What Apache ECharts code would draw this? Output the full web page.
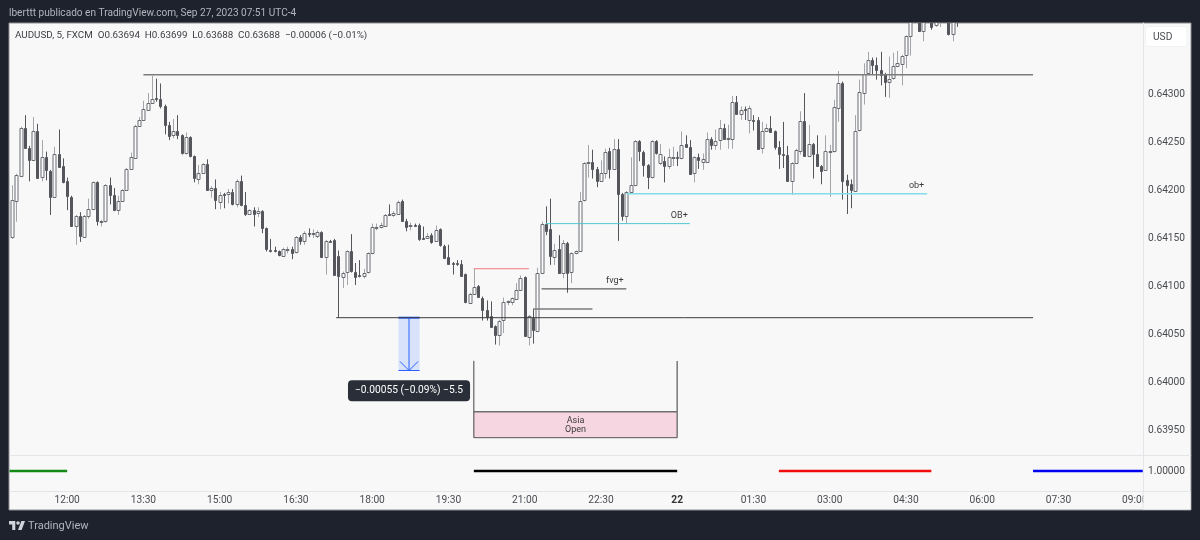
<!DOCTYPE html>
<html>
<head>
<meta charset="utf-8">
<title>AUDUSD, 5</title>
<script src="https://cdn.jsdelivr.net/npm/echarts@6/dist/echarts.min.js"></script>
<style>
  html, body {margin: 0; padding: 0; background: #1e222d;}
  #chart {width: 1200px; height: 540px;}
</style>
</head>
<body>
<div id="chart"></div>
<script>
// prices are in 1e-5 units (64151 = 0.64151), x is the 5 minute bar number counted from 00:00 of the 21st
const firstBar = 131

const opens = [
  64151,64189,64215,64265,64244,64232,64262,64213,64234,64220,
  64193,64238,64225,64209,64193,64163,64173,64151,64173,64180,
  64208,64167,64167,64205,64195,64180,64189,64200,64222,64234,
  64267,64273,64284,64291,64296,64295,64288,64268,64257,64261,
  64257,64238,64255,64235,64212,64218,64227,64200,64202,64188,
  64196,64196,64198,64185,64209,64184,64175,64179,64176,64178,
  64160,64138,64138,64136,64132,64138,64139,64135,64151,64147,
  64155,64154,64152,64156,64130,64147,64148,64131,64110,64114,
  64136,64115,64111,64111,64114,64134,64161,64162,64163,64175,
  64174,64176,64189,64168,64163,64164,64164,64150,64150,64153,
  64147,64159,64142,64130,64124,64124,64123,64112,64083,64092,
  64100,64088,64075,64069,64058,64049,64064,64083,64083,64087,
  64096,64109,64047,64067,64054,64114,64165,64159,64131,64139,
  64114,64145,64114,64134,64137,64189,64228,64229,64222,64210,
  64218,64241,64222,64243,64196,64173,64198,64205,64251,64240,
  64226,64213,64251,64229,64230,64225,64233,64234,64233,64248,
  64245,64217,64234,64229,64229,64253,64247,64252,64265,64253,
  64253,64292,64279,64284,64273,64273,64273,64244,64262,64265,
  64261,64245,64238,64237,64209,64228,64241,64272,64236,64248,
  64238,64225,64221,64240,64240,64286,64312,64210,64206,64200,
  64262,64301,64321,64335,64330,64325,64321,64313,64316,64329,
  64332,64340,64360,64378,64395,64366,64385,64385,64372,64378,
  64384,64380,64362,64381,
]
const closes = [
  64190,64216,64265,64244,64232,64262,64213,64234,64220,64193,
  64238,64224,64208,64193,64163,64173,64152,64173,64180,64208,
  64167,64168,64205,64195,64179,64189,64200,64222,64234,64267,
  64273,64284,64291,64295,64295,64288,64268,64257,64261,64257,
  64238,64255,64235,64212,64218,64227,64200,64202,64189,64195,
  64195,64198,64185,64209,64184,64175,64179,64175,64178,64160,
  64138,64137,64137,64132,64139,64139,64135,64151,64147,64155,
  64154,64155,64156,64130,64147,64146,64112,64110,64114,64136,
  64115,64110,64110,64114,64134,64161,64162,64164,64174,64174,
  64176,64188,64168,64162,64164,64163,64149,64149,64152,64146,
  64158,64142,64130,64123,64123,64123,64111,64083,64092,64099,
  64089,64075,64068,64058,64049,64064,64083,64084,64087,64096,
  64108,64048,64069,64054,64114,64165,64158,64131,64138,64114,
  64145,64114,64134,64136,64189,64228,64229,64222,64210,64218,
  64240,64222,64243,64196,64173,64198,64205,64251,64241,64226,
  64213,64251,64238,64238,64225,64234,64234,64233,64247,64245,
  64217,64234,64231,64232,64253,64247,64251,64265,64254,64254,
  64292,64280,64283,64283,64285,64272,64243,64262,64265,64261,
  64244,64238,64237,64210,64228,64242,64272,64236,64248,64238,
  64225,64220,64241,64241,64286,64312,64210,64205,64200,64262,
  64302,64321,64335,64330,64325,64320,64313,64316,64329,64332,
  64340,64360,64377,64395,64366,64392,64392,64369,64380,64382,
  64380,64362,64381,64376,
]
const highs = [
  64205,64217,64266,64278,64246,64276,64269,64252,64240,64221,
  64245,64263,64233,64213,64194,64174,64177,64174,64191,64209,
  64209,64169,64206,64213,64202,64194,64201,64223,64239,64268,
  64276,64293,64301,64319,64316,64311,64289,64271,64274,64278,
  64258,64260,64256,64236,64226,64228,64232,64204,64211,64198,
  64197,64201,64201,64211,64215,64198,64180,64182,64182,64179,
  64161,64149,64141,64137,64140,64141,64141,64152,64153,64157,
  64160,64159,64158,64157,64148,64148,64149,64137,64115,64137,
  64154,64124,64127,64118,64135,64165,64165,64166,64175,64185,
  64178,64189,64190,64170,64166,64165,64165,64162,64155,64155,
  64163,64160,64143,64143,64125,64127,64127,64113,64093,64118,
  64101,64089,64085,64084,64059,64065,64088,64085,64088,64103,
  64111,64110,64070,64076,64119,64167,64183,64191,64144,64153,
  64148,64146,64135,64137,64198,64229,64247,64242,64224,64231,
  64243,64244,64253,64253,64197,64199,64234,64252,64252,64241,
  64227,64252,64252,64248,64235,64243,64245,64240,64261,64257,
  64252,64235,64238,64238,64260,64255,64263,64273,64269,64268,
  64298,64298,64287,64287,64288,64278,64276,64271,64269,64277,
  64262,64251,64271,64246,64229,64243,64282,64301,64268,64249,
  64257,64226,64257,64247,64294,64324,64313,64216,64211,64278,
  64315,64332,64344,64338,64338,64344,64322,64339,64343,64345,
  64341,64361,64385,64400,64396,64393,64398,64386,64382,64384,
  64386,64381,64382,64382,
]
const lows = [
  64149,64167,64214,64243,64209,64231,64212,64209,64210,64174,
  64192,64223,64207,64179,64162,64143,64146,64150,64170,64179,
  64163,64162,64166,64185,64178,64174,64188,64199,64221,64233,
  64266,64272,64283,64290,64292,64285,64258,64252,64254,64253,
  64237,64237,64234,64208,64206,64217,64199,64192,64180,64180,
  64181,64186,64184,64182,64183,64173,64174,64162,64172,64155,
  64136,64135,64135,64131,64131,64134,64128,64134,64143,64143,
  64151,64150,64150,64129,64112,64146,64111,64067,64098,64101,
  64114,64101,64109,64108,64113,64133,64158,64160,64162,64173,
  64172,64175,64167,64157,64158,64162,64147,64148,64149,64144,
  64146,64141,64128,64122,64112,64121,64110,64082,64082,64091,
  64088,64064,64064,64057,64039,64038,64051,64080,64080,64086,
  64095,64047,64038,64040,64052,64113,64153,64122,64122,64113,
  64108,64093,64103,64133,64136,64188,64213,64212,64203,64209,
  64212,64212,64221,64147,64168,64165,64197,64204,64230,64214,
  64201,64212,64237,64226,64208,64222,64225,64225,64232,64244,
  64216,64208,64222,64221,64228,64242,64242,64242,64253,64243,
  64243,64279,64273,64273,64259,64262,64242,64238,64261,64260,
  64242,64222,64223,64209,64195,64227,64237,64235,64235,64212,
  64224,64206,64220,64193,64239,64271,64190,64175,64181,64199,
  64261,64289,64320,64320,64315,64309,64297,64296,64315,64328,
  64309,64327,64340,64375,64365,64355,64380,64367,64370,64370,
  64378,64361,64355,64370,
]

const timeLabels = ['12:00', '13:30', '15:00', '16:30', '18:00', '19:30', '21:00', '22:30', '22',
  '01:30', '03:00', '04:30', '06:00', '07:30', '09:00']

// drawn levels: high line, low line, cyan OB+, cyan ob+, red, fvg+, grey under fvg+
const levelPrices = [64320, 64067, 64165, 64196, 64118, 64097, 64076]
const levelFrom = [162, 207.5, 257, 276, 240, 256, 254]
const levelTo = [372, 372, 291, 347, 253, 276, 268]

const noteTexts = ['OB+', 'ob+', 'fvg+']
const noteBars = [288.5, 344.5, 273.3]
const notePrices = [64173, 64204, 64105]

// session bands in the lower pane
const sessionValue = 1
const sessionFrom = [130.4, 240, 312, 372]
const sessionTo = [144, 288, 348, 397.9]

const measureFrom = 222.2
const measureTo = 227.2
const measureTop = 64067
const measureBottom = 64012
const measureLabelPrice = 63991
const measureText = '−0.00055 (−0.09%) −5.5'

const asiaFrom = 240
const asiaTo = 288
const asiaTop = 64022
const asiaBandTop = 63969
const asiaBottom = 63942
const asiaText = 'Asia\nOpen'

const font = 'Roboto'
const p = v => v / 1e5

const candles = opens.map((o, i) => [firstBar + i, p(o), p(closes[i]), p(lows[i]), p(highs[i])])

function renderCandle(params, api) {
  const x = api.value(0)
  const open = api.value(1)
  const close = api.value(2)
  const up = close >= open
  const top = api.coord([x, Math.max(open, close)])
  const bot = api.coord([x, Math.min(open, close)])
  const hi = api.coord([x, api.value(4)])
  const lo = api.coord([x, api.value(3)])
  const cx = Math.round(top[0]) + 0.5
  const h = Math.max(Math.round(bot[1] - top[1]), 1)
  const y = Math.round(top[1]) + 0.5
  return {
    type: 'group',
    children: [
      {
        type: 'line',
        shape: {x1: cx, y1: hi[1], x2: cx, y2: lo[1]},
        style: {stroke: up ? '#a3a5ab' : '#54565c', lineWidth: 1},
      },
      {
        type: 'rect',
        shape: up ? {x: cx - 1.5, y, width: 3, height: h} : {x: cx - 1, y, width: 2, height: h},
        style: {fill: up ? '#fcfcfc' : '#54565c', stroke: up ? '#6a6c72' : '#54565c', lineWidth: 1},
      },
    ],
  }
}

function renderMeasure(params, api) {
  const a = api.coord([api.value(0), api.value(2)])
  const b = api.coord([api.value(1), api.value(3)])
  const mid = (a[0] + b[0]) / 2
  const blue = '#2962ff'
  return {
    type: 'group',
    children: [
      {type: 'rect', shape: {x: a[0], y: a[1], width: b[0] - a[0], height: b[1] - a[1]}, style: {fill: '#d8e2fb'}},
      {type: 'line', shape: {x1: a[0], y1: a[1], x2: b[0], y2: a[1]}, style: {stroke: blue, lineWidth: 2}},
      {type: 'line', shape: {x1: a[0], y1: b[1], x2: b[0], y2: b[1]}, style: {stroke: blue, lineWidth: 1}},
      {type: 'line', shape: {x1: mid, y1: a[1], x2: mid, y2: b[1]}, style: {stroke: blue, lineWidth: 1}},
      {
        type: 'polyline',
        shape: {points: [[mid - 9, b[1] - 9], [mid, b[1]], [mid + 9, b[1] - 9]]},
        style: {stroke: blue, fill: 'none', lineWidth: 1},
      },
    ],
  }
}

function renderAsia(params, api) {
  const tl = api.coord([api.value(0), api.value(2)])
  const band = api.coord([api.value(1), api.value(3)])
  const br = api.coord([api.value(1), api.value(4)])
  return {
    type: 'group',
    children: [
      {
        type: 'rect',
        shape: {x: tl[0], y: band[1], width: br[0] - tl[0], height: br[1] - band[1]},
        style: {fill: '#f6d6e1'},
      },
      {type: 'line', shape: {x1: tl[0], y1: band[1], x2: br[0], y2: band[1]}, style: {stroke: '#6f6f6f', lineWidth: 1.5}},
      {type: 'line', shape: {x1: tl[0], y1: br[1], x2: br[0], y2: br[1]}, style: {stroke: '#555', lineWidth: 1}},
      {type: 'line', shape: {x1: tl[0], y1: tl[1], x2: tl[0], y2: br[1]}, style: {stroke: '#444', lineWidth: 1}},
      {type: 'line', shape: {x1: br[0], y1: tl[1], x2: br[0], y2: br[1]}, style: {stroke: '#777', lineWidth: 1.5}},
      {
        type: 'text',
        style: {
          x: (tl[0] + br[0]) / 2,
          y: (band[1] + br[1]) / 2 + 1,
          text: asiaText,
          fill: '#3b3b3b',
          font: `9px ${font}`,
          align: 'center',
          verticalAlign: 'middle',
          lineHeight: 9,
        },
      },
    ],
  }
}

const levelStyles = [
  {color: '#7c7c7c', width: 1.5},
  {color: '#3a3a3a', width: 1},
  {color: '#4fc6d3', width: 1},
  {color: '#7fdde7', width: 1.5},
  {color: '#f4757d', width: 1},
  {color: '#3a3a3a', width: 1},
  {color: '#7c7c7c', width: 1.5},
]
const sessionColors = ['#148a14', '#000000', '#f20d0d', '#0000f0']

const levelSeries = levelPrices.map((v, i) => ({
  type: 'line',
  xAxisIndex: 0,
  yAxisIndex: 0,
  symbol: 'none',
  z: 4,
  lineStyle: levelStyles[i],
  data: [[levelFrom[i], p(v)], [levelTo[i], p(v)]],
}))

const sessionSeries = sessionFrom.map((v, i) => ({
  type: 'line',
  xAxisIndex: 1,
  yAxisIndex: 1,
  symbol: 'none',
  lineStyle: {color: sessionColors[i], width: 2.5},
  data: [[v, sessionValue], [sessionTo[i], sessionValue]],
}))

// ticks count from min, so both axes start on a multiple of their interval and
// the grids run a little past the visible panel
const xRange = {min: 126, max: 397.96, interval: 18}
const axisGrey = '#e4e5e8'
const labelGrey = '#4a4c52'

const option = {
  animation: false,
  backgroundColor: '#1e222d',
  textStyle: {fontFamily: font},
  grid: [
    {left: -9.1, top: 23, width: 1152.1, height: 455, outerBoundsMode: 'none'},
    {left: -9.1, top: 456, width: 1152.1, height: 35, outerBoundsMode: 'none'},
  ],
  xAxis: [
    {
      type: 'value',
      gridIndex: 0,
      ...xRange,
      axisLine: {show: false},
      axisTick: {show: false},
      axisLabel: {show: false},
      splitLine: {show: false},
    },
    {
      type: 'value',
      gridIndex: 1,
      ...xRange,
      axisLine: {show: false},
      axisTick: {show: false},
      splitLine: {show: false},
      axisLabel: {
        color: labelGrey,
        fontSize: 10.2,
        margin: 4,
        showMinLabel: false,
        showMaxLabel: false,
        formatter: v => {
          const s = timeLabels[(v - 144) / 18] || ''
          return s === '22' ? `{b|${s}}` : s
        },
        rich: {b: {fontWeight: 'bold', fontSize: 10.2, color: '#333'}},
      },
    },
  ],
  yAxis: [
    {
      type: 'value',
      gridIndex: 0,
      position: 'right',
      min: 0.639,
      max: 0.64374,
      interval: 0.0005,
      axisLine: {show: true, onZero: false, lineStyle: {color: axisGrey}},
      axisTick: {show: false},
      splitLine: {show: false},
      axisLabel: {
        color: labelGrey,
        fontSize: 10.2,
        margin: 5,
        showMinLabel: false,
        showMaxLabel: false,
        formatter: v => (v > 0.6432 ? '' : v.toFixed(5)),
      },
    },
    {
      type: 'value',
      gridIndex: 1,
      position: 'right',
      min: 0,
      max: 1.75,
      interval: 1,
      axisLine: {show: true, onZero: false, lineStyle: {color: axisGrey}},
      axisTick: {show: false},
      splitLine: {show: false},
      axisLabel: {
        color: labelGrey,
        fontSize: 10.2,
        margin: 5,
        showMinLabel: false,
        showMaxLabel: false,
        formatter: v => v.toFixed(5),
      },
    },
  ],
  series: [
    {
      type: 'custom',
      name: 'AUDUSD',
      xAxisIndex: 0,
      yAxisIndex: 0,
      clip: true,
      z: 3,
      renderItem: renderCandle,
      encode: {x: 0, y: [1, 2, 3, 4]},
      data: candles,
    },
    ...levelSeries,
    {
      type: 'custom',
      xAxisIndex: 0,
      yAxisIndex: 0,
      z: 2,
      renderItem: renderMeasure,
      encode: {x: [0, 1], y: [2, 3]},
      data: [[measureFrom, measureTo, p(measureTop), p(measureBottom)]],
    },
    {
      type: 'custom',
      xAxisIndex: 0,
      yAxisIndex: 0,
      z: 2,
      renderItem: renderAsia,
      encode: {x: [0, 1], y: [2, 3, 4]},
      data: [[asiaFrom, asiaTo, p(asiaTop), p(asiaBandTop), p(asiaBottom)]],
    },
    {
      type: 'scatter',
      xAxisIndex: 0,
      yAxisIndex: 0,
      symbolSize: 0,
      z: 5,
      itemStyle: {opacity: 1},
      label: {
        show: true,
        position: 'inside',
        color: '#3b3b3b',
        fontSize: 9,
        formatter: d => d.name,
      },
      data: noteTexts.map((t, i) => ({name: t, value: [noteBars[i], p(notePrices[i])]})),
    },
    {
      type: 'scatter',
      xAxisIndex: 0,
      yAxisIndex: 0,
      symbolSize: 0,
      z: 6,
      itemStyle: {opacity: 1},
      label: {
        show: true,
        position: 'inside',
        color: '#fff',
        fontSize: 10.2,
        backgroundColor: '#2a2e39',
        borderRadius: 4,
        padding: [6, 7, 5, 7],
        formatter: d => d.name,
      },
      data: [{name: measureText, value: [(measureFrom + measureTo) / 2, p(measureLabelPrice)]}],
    },
    ...sessionSeries,
  ],
  graphic: [
    // chart panel behind the two grids
    {
      type: 'rect',
      z: -10,
      shape: {x: 9, y: 23, width: 1182, height: 487},
      style: {fill: '#f8f8f8', stroke: '#8f9094', lineWidth: 1},
    },
    // pane separators
    {
      type: 'line',
      z: 1,
      shape: {x1: 9.5, y1: 455.5, x2: 1191, y2: 455.5},
      style: {stroke: axisGrey, lineWidth: 1},
    },
    {
      type: 'line',
      z: 1,
      shape: {x1: 9.5, y1: 491.5, x2: 1191, y2: 491.5},
      style: {stroke: axisGrey, lineWidth: 1},
    },
    // the last time label is cut at the price scale
    {
      type: 'rect',
      z: 100,
      shape: {x: 1143.5, y: 492, width: 47, height: 17.5},
      style: {fill: '#f8f8f8'},
    },
    {
      type: 'line',
      z: 100,
      shape: {x1: 1143, y1: 491, x2: 1143, y2: 510},
      style: {stroke: axisGrey, lineWidth: 1},
    },
    {
      type: 'text',
      z: 100,
      style: {
        x: 9,
        y: 8,
        text: 'lberttt publicado en TradingView.com, Sep 27, 2023 07:51 UTC-4',
        fill: '#b2b5be',
        font: `10.1px ${font}`,
      },
    },
    {
      type: 'text',
      z: 100,
      style: {
        x: 15,
        y: 31,
        text: 'AUDUSD, 5, FXCM  O0.63694  H0.63699  L0.63688  C0.63688  −0.00006 (−0.01%)',
        fill: '#3c3e44',
        font: `9.8px ${font}`,
      },
    },
    {
      type: 'rect',
      z: 100,
      shape: {x: 1145.5, y: 26.5, width: 41.5, height: 20, r: 3},
      style: {fill: '#ffffff', stroke: '#f0f1f4', lineWidth: 1},
    },
    {
      type: 'text',
      z: 101,
      style: {x: 1153, y: 32, text: 'USD', fill: labelGrey, font: `10.2px ${font}`},
    },
    // TradingView mark
    {
      type: 'polygon',
      z: 100,
      shape: {points: [[9, 521], [15.3, 521], [15.3, 530], [12.2, 530], [12.2, 524.5], [9, 524.5]]},
      style: {fill: '#d1d4dc'},
    },
    {
      type: 'circle',
      z: 100,
      shape: {cx: 18, cy: 523, r: 1.8},
      style: {fill: '#d1d4dc'},
    },
    {
      type: 'polygon',
      z: 100,
      shape: {points: [[21.4, 521], [25, 521], [21.6, 530], [18, 530]]},
      style: {fill: '#d1d4dc'},
    },
    {
      type: 'text',
      z: 100,
      style: {x: 28, y: 521, text: 'TradingView', fill: '#b2b5be', font: `11px ${font}`},
    },
  ],
}

const chart = echarts.init(document.getElementById('chart'), null, {renderer: 'canvas'})
chart.setOption(option)
</script>
</body>
</html>
